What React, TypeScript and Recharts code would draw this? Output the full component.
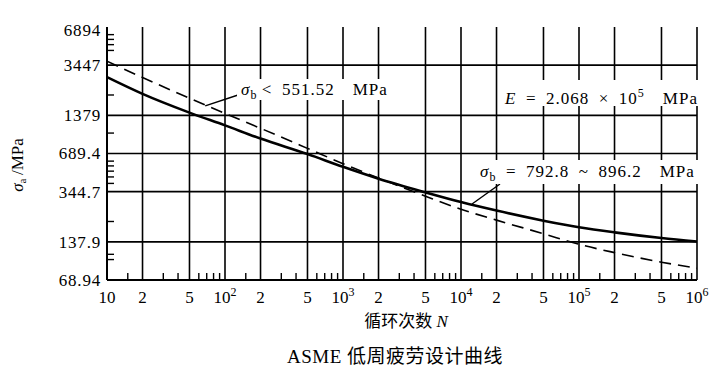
import { LineChart, Line, XAxis, YAxis, ReferenceLine } from 'recharts'

// cycles N and design stress amplitude σa (MPa)
const CYCLES = [10, 20, 50, 100, 200, 500, 1e3, 2e3, 5e3, 1e4, 2e4, 5e4, 1e5, 2e5, 5e5, 1e6]
// σb = 792.8 ~ 896.2 MPa (solid)
const SIGMA_HIGH = [2767, 2040, 1450, 1150, 905, 683, 541, 436, 340, 285, 244, 203, 180, 164, 148, 139]
// σb < 551.52 MPa (dashed)
const SIGMA_LOW = [3702, 2748, 1887, 1430, 1091, 757, 573, 441, 317, 250, 205, 160, 132, 113.5, 95.3, 85.5]

const X_MAJOR = [10, 20, 50, 100, 200, 500, 1e3, 2e3, 5e3, 1e4, 2e4, 5e4, 1e5, 2e5, 5e5, 1e6]
const X_MAJOR_LABELS = ['10', '2', '5', '10^2', '2', '5', '10^3', '2', '5', '10^4', '2', '5', '10^5', '2', '5', '10^6']
const X_MINOR = [
  15, 30, 40, 60, 70, 80, 90,
  150, 300, 400, 600, 700, 800, 900,
  1500, 3000, 4000, 6000, 7000, 8000, 9000,
  15000, 30000, 40000, 60000, 70000, 80000, 90000,
  150000, 300000, 400000, 600000, 700000, 800000, 900000,
]
const X_GRID = [20, 50, 100, 200, 500, 1e3, 2e3, 5e3, 1e4, 2e4, 5e4, 1e5, 2e5, 5e5, 1e6]

const Y_MAJOR = [68.94, 137.9, 344.7, 689.4, 1379, 3447, 6894]
const Y_MINOR = [100, 110, 200, 400, 450, 500, 550, 600, 1000, 2000, 4500, 5000, 5500, 6000]
const Y_GRID = [137.9, 344.7, 689.4, 1379, 3447]

const FONT = '"Liberation Serif", "Noto Sans CJK SC", serif'
const X_TICK_MARGIN = 11
const Y_TICK_MARGIN = 6
const MINOR_LEN = 7

const highData = CYCLES.map((n, i) => ({ n, s: SIGMA_HIGH[i] }))
const lowData = CYCLES.map((n, i) => ({ n, s: SIGMA_LOW[i] }))

function XTick(props: any) {
  const { x, y, payload } = props
  const i = X_MAJOR.indexOf(payload.value)
  if (i < 0) {
    const y0 = y - X_TICK_MARGIN
    return <line x1={x} x2={x} y1={y0} y2={y0 - MINOR_LEN} stroke="#000" strokeWidth={1.4} />
  }
  const [base, exp] = X_MAJOR_LABELS[i].split('^')
  return (
    <text x={x} y={y} dy="0.71em" textAnchor="middle" fontSize={17} fill="#000" style={{ fontFamily: FONT }}>
      {base}
      {exp && <tspan dy={-7} fontSize={12}>{exp}</tspan>}
    </text>
  )
}

function YTick(props: any) {
  const { x, y, payload } = props
  if (!Y_MAJOR.includes(payload.value)) {
    const x0 = x + Y_TICK_MARGIN
    return <line x1={x0} x2={x0 + MINOR_LEN} y1={y} y2={y} stroke="#000" strokeWidth={1.4} />
  }
  // top label sits a little below the axis end, as in the source figure
  const shift = payload.value === 6894 ? 3 : 0
  return (
    <text x={x} y={y + shift} dy="0.35em" textAnchor="end" fontSize={17} fill="#000"
      style={{ fontFamily: FONT, letterSpacing: 0.8 }}>
      {String(payload.value)}
    </text>
  )
}

const boxStyle: React.CSSProperties = {
  position: 'absolute',
  background: '#fff',
  fontSize: 17,
  whiteSpace: 'nowrap',
  color: '#000',
  letterSpacing: 1,
}

export default function App() {
  return (
    <div style={{ position: 'relative', width: 717, height: 383, background: '#fff', fontFamily: FONT }}>
      <LineChart width={717} height={300} margin={{ top: 19, right: 28, left: 0, bottom: 0 }}>
        <XAxis
          type="number"
          dataKey="n"
          scale="log"
          domain={[10, 1e6]}
          allowDataOverflow
          ticks={[...X_MAJOR, ...X_MINOR]}
          interval={0}
          tick={<XTick />}
          tickLine={false}
          tickSize={0}
          tickMargin={X_TICK_MARGIN}
          axisLine={{ stroke: '#000', strokeWidth: 2 }}
          height={28}
        />
        <YAxis
          type="number"
          scale="log"
          domain={[68.94, 6894]}
          allowDataOverflow
          ticks={[...Y_MAJOR, ...Y_MINOR]}
          interval={0}
          tick={<YTick />}
          tickLine={false}
          tickSize={0}
          tickMargin={Y_TICK_MARGIN}
          axisLine={{ stroke: '#000', strokeWidth: 2 }}
          width={99}
        />
        {Y_GRID.map(v => (
          <ReferenceLine key={`y${v}`} y={v} stroke="#000" strokeWidth={1.6} />
        ))}
        {X_GRID.map(v => (
          <ReferenceLine key={`x${v}`} x={v} stroke="#000" strokeWidth={1.6} />
        ))}
        <ReferenceLine segment={[{ x: 68, y: 1640 }, { x: 129, y: 2000 }]} stroke="#000" strokeWidth={1.4} />
        <ReferenceLine segment={[{ x: 12400, y: 275 }, { x: 21400, y: 396 }]} stroke="#000" strokeWidth={1.4} />
        <Line
          data={highData}
          dataKey="s"
          type="monotone"
          stroke="#000"
          strokeWidth={2.6}
          dot={false}
          isAnimationActive={false}
        />
        <Line
          data={lowData}
          dataKey="s"
          type="monotone"
          stroke="#000"
          strokeWidth={1.6}
          strokeDasharray="12 7"
          dot={false}
          isAnimationActive={false}
        />
      </LineChart>

      <div style={{ ...boxStyle, left: 229, top: 71, height: 21, lineHeight: '21px', padding: '0 3px 0 4px' }}>
        <i>σ</i><sub style={{ fontSize: 12, verticalAlign: -4 }}>b</sub>&thinsp;&lt;&ensp;551.52&emsp;MPa
      </div>
      <div style={{ ...boxStyle, left: 492, top: 72, height: 26, lineHeight: '26px', padding: '0 3px 0 5px' }}>
        <i>E</i>&ensp;=&ensp;2.068&ensp;×&ensp;10<sup style={{ fontSize: 12, verticalAlign: 7 }}>5</sup>&emsp;MPa
      </div>
      <div style={{ ...boxStyle, left: 469, top: 152, height: 24, lineHeight: '24px', padding: '0 3px 0 3px' }}>
        <i>σ</i><sub style={{ fontSize: 12, verticalAlign: -4 }}>b</sub>&ensp;=&ensp;792.8&ensp;~&ensp;896.2&emsp;MPa
      </div>

      <div
        style={{
          position: 'absolute', left: -30, top: 146, width: 80, height: 22, lineHeight: '22px',
          textAlign: 'center', fontSize: 17, transform: 'rotate(-90deg)', whiteSpace: 'nowrap',
        }}
      >
        <i>σ</i><sub style={{ fontSize: 11, verticalAlign: -3 }}>a</sub>&thinsp;/MPa
      </div>
      <div style={{ position: 'absolute', left: 298, top: 303, width: 200, lineHeight: '22px', textAlign: 'center', fontSize: 17 }}>
        循环次数 <i>N</i>
      </div>
      <div style={{ position: 'absolute', left: 187, top: 338, width: 400, lineHeight: '22px', textAlign: 'center', fontSize: 19, letterSpacing: 0.5 }}>
        ASME 低周疲劳设计曲线
      </div>
    </div>
  )
}
